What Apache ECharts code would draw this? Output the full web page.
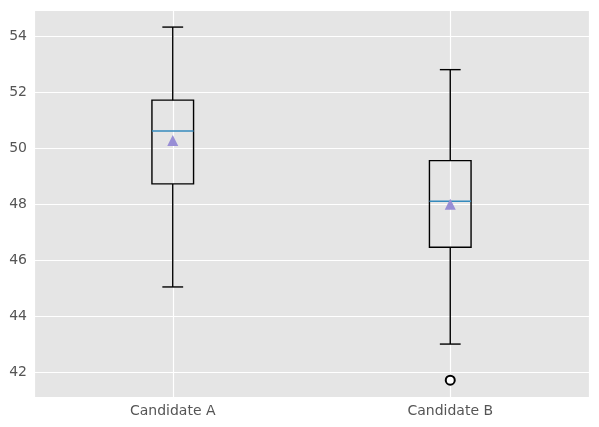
<!DOCTYPE html>
<html>
<head>
<meta charset="utf-8">
<script src="https://cdn.jsdelivr.net/npm/echarts@6/dist/echarts.min.js"></script>
<style>
  html, body { margin: 0; padding: 0; background: #fff; }
  #chart { width: 599px; height: 427px; }
</style>
</head>
<body>
<div id="chart"></div>
<script>
// values
const categories = ['Candidate A', 'Candidate B'];
const whiskerLow = [45.04, 43.0];
const q1 = [48.72, 46.46];
const median = [50.61, 48.1];
const q3 = [51.71, 49.55];
const whiskerHigh = [54.32, 52.8];
const means = [50.27, 47.99];
const outliers = [[2, 41.71]];   // [position, value]

const yMin = 41.11;
const yMax = 54.93;

let chart = echarts.init(document.getElementById('chart'), null, { renderer: 'canvas' })

// boxes sit at positions 1, 2 like matplotlib
const boxData = categories.map((c, i) =>
  [i + 1, whiskerLow[i], q1[i], median[i], q3[i], whiskerHigh[i]]
)

// matplotlib style box: whiskers, half-width caps, blue median
function renderBox(params, api) {
  const pos = api.value(0)
  const unit = api.size([1, 0])[0]
  const boxW = unit * 0.15
  const capW = boxW / 2
  const pLow = api.coord([pos, api.value(1)])
  const pQ1 = api.coord([pos, api.value(2)])
  const pMed = api.coord([pos, api.value(3)])
  const pQ3 = api.coord([pos, api.value(4)])
  const pHigh = api.coord([pos, api.value(5)])
  const x = pMed[0]
  const black = { stroke: '#000', lineWidth: 1.4, fill: null }
  return {
    type: 'group',
    children: [
      { type: 'line', shape: { x1: x, y1: pQ1[1], x2: x, y2: pLow[1] }, style: black },
      { type: 'line', shape: { x1: x, y1: pQ3[1], x2: x, y2: pHigh[1] }, style: black },
      { type: 'line', shape: { x1: x - capW / 2, y1: pLow[1], x2: x + capW / 2, y2: pLow[1] }, style: black },
      { type: 'line', shape: { x1: x - capW / 2, y1: pHigh[1], x2: x + capW / 2, y2: pHigh[1] }, style: black },
      { type: 'rect', shape: { x: x - boxW / 2, y: pQ3[1], width: boxW, height: pQ1[1] - pQ3[1] }, style: black },
      { type: 'line', shape: { x1: x - boxW / 2, y1: pMed[1], x2: x + boxW / 2, y2: pMed[1] }, style: { stroke: '#348abd', lineWidth: 1.4 } }
    ]
  }
}

const labelFont = { color: '#555', fontSize: 14, fontFamily: 'DejaVu Sans' }

chart.setOption({
  animation: false,
  backgroundColor: '#fff',
  grid: { left: 34, right: 10, top: 10, bottom: 30, show: true, backgroundColor: '#e5e5e5', borderWidth: 0 },
  xAxis: {
    type: 'value',
    min: 0.5,
    max: 2.5,
    minInterval: 1,
    maxInterval: 1,
    axisLine: { show: false },
    axisTick: { show: false },
    axisLabel: {
      ...labelFont, margin: 7, showMinLabel: false, showMaxLabel: false,
      formatter: v => categories[Math.round(v) - 1] || ''
    },
    splitLine: { show: true, lineStyle: { color: '#fff', width: 1.2 } }
  },
  yAxis: {
    type: 'value',
    min: yMin,
    max: yMax,
    splitNumber: 7,
    minInterval: 2,
    maxInterval: 2,
    axisLine: { show: false },
    axisTick: { show: false },
    axisLabel: { ...labelFont, margin: 7, showMinLabel: false, showMaxLabel: false },
    splitLine: { show: true, lineStyle: { color: '#fff', width: 1.2 } }
  },
  series: [
    {
      type: 'custom',
      renderItem: renderBox,
      encode: { x: 0, y: [1, 2, 3, 4, 5] },
      data: boxData,
      z: 3
    },
    {
      type: 'scatter',
      symbol: 'triangle',
      symbolSize: 11,
      itemStyle: { color: '#988ed5', opacity: 1 },
      data: categories.map((c, i) => [i + 1, means[i]]),
      z: 4
    },
    {
      type: 'scatter',
      symbol: 'emptyCircle',
      symbolSize: 9,
      itemStyle: { color: '#000', borderColor: '#000', borderWidth: 1.4, opacity: 1 },
      data: outliers,
      z: 4
    }
  ]
})
</script>
</body>
</html>
